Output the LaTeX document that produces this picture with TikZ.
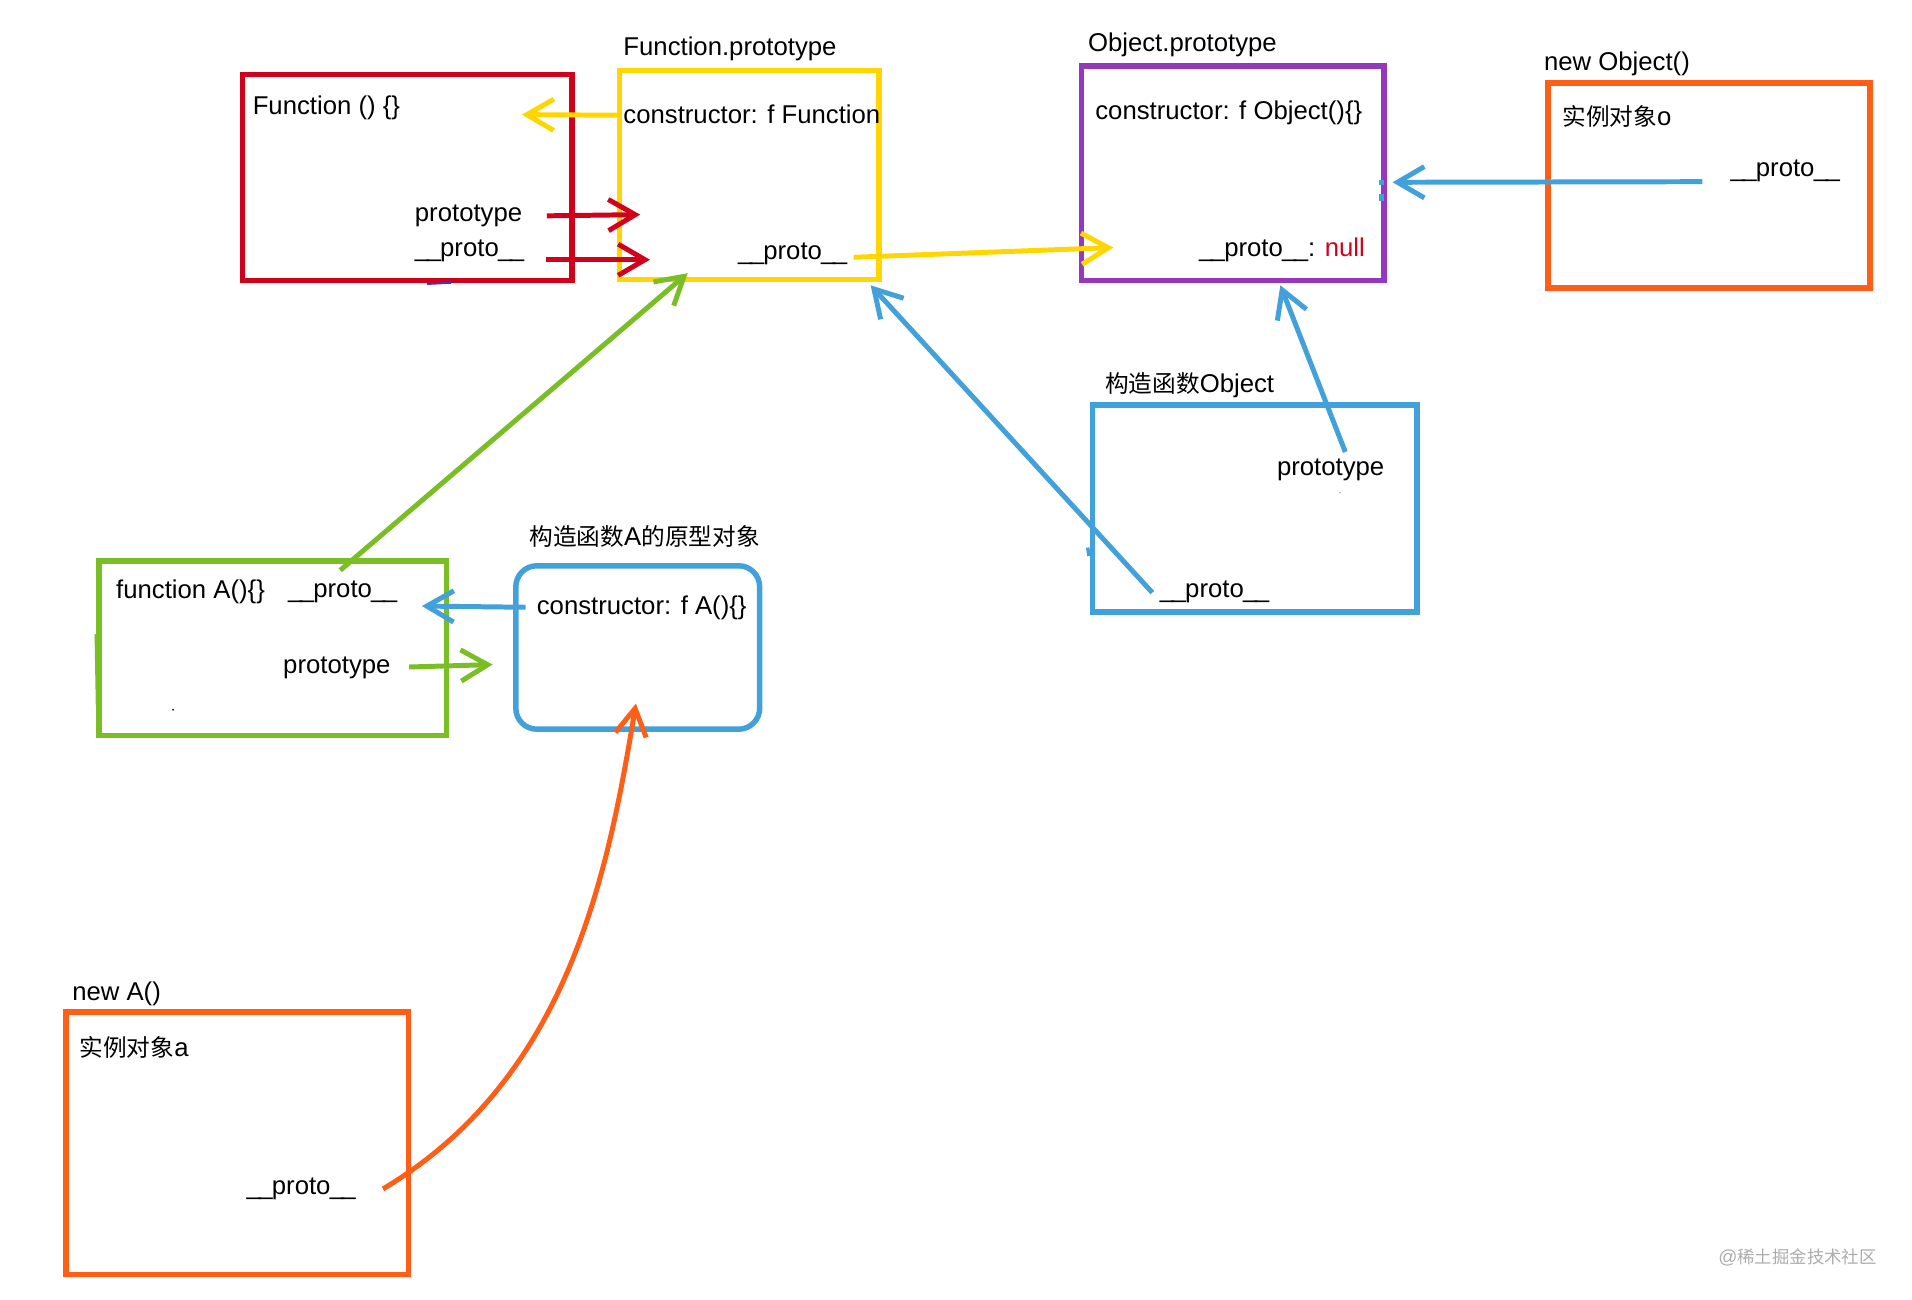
\documentclass[tikz,border=0pt]{standalone}
\usepackage{fontspec}
\setmainfont{Liberation Sans}
\newfontfamily\cjk{Noto Sans CJK SC}[Scale=0.92]
\usepackage{xcolor}
\usetikzlibrary{arrows.meta,calc}

\definecolor{fnred}{RGB}{208,2,27}
\definecolor{fpyellow}{RGB}{255,214,0}
\definecolor{oppurple}{RGB}{150,56,190}
\definecolor{neworange}{RGB}{255,94,22}
\definecolor{ctorblue}{RGB}{66,160,218}
\definecolor{agreen}{RGB}{122,190,38}

\newcommand{\proto}{\_\kern-0.1em\_\kern-0.03em proto\kern-0.03em\_\kern-0.1em\_}

\tikzset{
    box/.style n args={3}{draw=#1, line width=3.2pt, minimum width=#2*0.025cm, minimum height=#3*0.025cm, inner sep=0pt},
    lbl/.style={anchor=west, inner sep=0pt, text height=0.9em, text depth=0.1em, font=\fontsize{15}{18}\selectfont},
    link/.style={draw=#1, line width=2.9pt, -{Straight Barb[length=5.5mm,width=6.4mm]}}
}

\begin{document}
\begin{tikzpicture}[x=0.025cm, y=-0.025cm]
    \useasboundingbox (0,0) rectangle (1568,1066);

    % Boxes
    \node[box={fnred}{270}{169}] (fnbox) at (334,145.5) {};
    \node[box={fpyellow}{213}{171}] (fpbox) at (614.5,143.5) {};
    \node[box={oppurple}{248}{176}] (opbox) at (1011,142) {};
    \node[box={neworange}{264}{168}] (nobox) at (1401.5,152) {};
    \node[box={ctorblue}{266}{170}] (objbox) at (1029,417) {};
    \node[box={agreen}{285}{143}] (abox) at (223.5,531.5) {};
    \node[box={ctorblue}{200}{134}, rounded corners=4.3mm] (apbox) at (523,531) {};
    \node[box={neworange}{281}{215}] (nabox) at (194.5,937.5) {};

    % Function () {}
    \node[lbl] (fnname) at (207,88) {Function () \{\}};
    \node[lbl] (fnprot) at (340,176) {prototype};
    \node[lbl] (fnproto) at (340,205) {\proto};

    % Function.prototype
    \node[lbl] (fptitle) at (511,40) {Function.prototype};
    \node[lbl] (fpctor) at (511,96) {constructor: f Function};
    \node[lbl] (fpproto) at (605,207) {\proto};

    % Object.prototype
    \node[lbl] (optitle) at (892,37) {Object.prototype};
    \node[lbl] (opctor) at (898,92) {constructor: f Object()\{\}};
    \node[lbl] (opproto) at (983,205) {\proto: \textcolor{fnred}{null}};

    % new Object()
    \node[lbl] (notitle) at (1266,52) {new Object()};
    \node[lbl] (noname) at (1281,97) {{\cjk 实例对象}o};
    \node[lbl] (noproto) at (1419,139) {\proto};

    % Object constructor
    \node[lbl] (objtitle) at (906,316) {{\cjk 构造函数}Object};
    \node[lbl] (objprot) at (1047,384) {prototype};
    \node[lbl] (objproto) at (951,484) {\proto};

    % A.prototype
    \node[lbl] (aptitle) at (434,442) {{\cjk 构造函数}A{\cjk 的原型对象}};
    \node[lbl] (apctor) at (440,498) {constructor: f A()\{\}};

    % function A
    \node[lbl] (aname) at (95,485) {function A()\{\}};
    \node[lbl] (aproto) at (236,484) {\proto};
    \node[lbl] (aprot) at (232,547) {prototype};

    % new A()
    \node[lbl] (natitle) at (59,815) {new A()};
    \node[lbl] (naname) at (65,861) {{\cjk 实例对象}a};
    \node[lbl] (naproto) at (202,974) {\proto};

    \node[anchor=west, inner sep=0pt, text=gray!65, font=\fontsize{11}{13}\selectfont] (mark) at (1409,1031) {@{\cjk 稀土掘金技术社区}};

    % Arrow tips
    \coordinate (fnin) at (428,94);
    \coordinate (fpinprot) at (525,176);
    \coordinate (fpinproto) at (533,213);
    \coordinate (fpbot) at (564,224);
    \coordinate (fpcorner) at (714,234);
    \coordinate (opin) at (913,203);
    \coordinate (opbot) at (1050,234);
    \coordinate (opright) at (1142,149.5);
    \coordinate (aright) at (346,497);
    \coordinate (apleft) at (404,545);
    \coordinate (apbot) at (521.5,577);

    % Links
    \draw[link=fpyellow] ($(fpctor.west)+(-3,-1.5)$) -- (fnin);
    \draw[link=fnred] ($(fnprot.east)+(20,1)$) -- (fpinprot);
    \draw[link=fnred] ($(fnproto.east)+(18,8)$) -- (fpinproto);
    \draw[link=agreen] ($(aproto.north)+(-2,-9)$) -- (fpbot);
    \draw[link=fpyellow] ($(fpproto.east)+(5,4)$) -- (opin);
    \draw[link=ctorblue] ($(objproto.west)+(-6,2)$) -- (fpcorner);
    \draw[link=ctorblue] ($(objprot.north)+(12,-6)$) -- (opbot);
    \draw[link=ctorblue] ($(noproto.west)+(-23,10)$) -- (opright);
    \draw[link=ctorblue] ($(apctor.west)+(-9,0)$) -- (aright);
    \draw[link=agreen] ($(aprot.east)+(15,0)$) -- (apleft);
    \draw[link=neworange] ($(naproto.east)+(22,1)$) .. controls (465,885) and (498,720) .. (apbot);

    % Stray pen marks
    \draw[blue!60!ctorblue, line width=1pt] (350,233) -- (370,232);
    \draw[ctorblue, line width=2.5pt] (1133,148) -- (1133,152) (1133,159) -- (1133,165);
    \draw[ctorblue, line width=2pt] (892,449) -- (893,456);
    \draw[agreen, line width=3.5pt] (80,520) -- (81,578);
    \fill (142,582) circle (0.8);
    \fill[gray] (1099,404) circle (0.6);
\end{tikzpicture}
\end{document}
